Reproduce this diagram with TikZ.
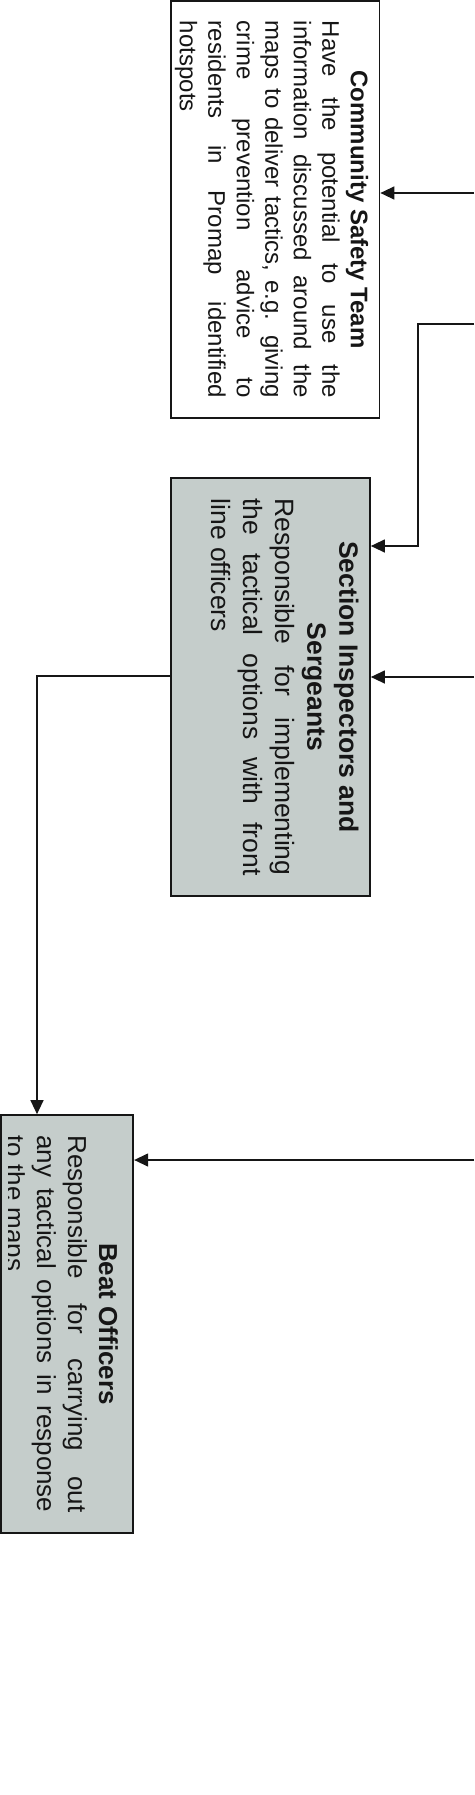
\documentclass[tikz,border=0pt]{standalone}
\usepackage{fontspec}
\setmainfont{Liberation Sans}
\usetikzlibrary{arrows.meta,calc}
\definecolor{boxgray}{RGB}{197,205,203}
\definecolor{ink}{RGB}{22,22,22}
\hyphenpenalty=10000
\exhyphenpenalty=10000
\begin{document}
\begin{tikzpicture}[x=1pt,y=-1pt,
  box/.style={draw=ink,line width=1.7pt,inner sep=0pt},
  txt/.style={rotate=-90,anchor=north,inner sep=0pt,text width=377pt,align=justify,text=ink},
  arr/.style={draw=ink,line width=1.3pt,-{Triangle[length=14pt,width=13pt]}}]
\useasboundingbox (0,0) rectangle (474,1795);
% boxes
\node[box,fill=white,minimum width=208.5pt,minimum height=417pt] (cst) at (275.25,209.5) {};
\node[txt,font=\fontsize{24}{28.5}\selectfont] (cstt) at ([xshift=-12pt]cst.east)
  {{\centering\bfseries Community Safety Team\par}\parindent=0pt Have the potential to use the\linebreak information discussed around the\linebreak maps to deliver tactics, e.g. giving\linebreak crime prevention advice to\linebreak residents in Promap identified\linebreak hotspots};
\node[box,fill=boxgray,minimum width=199pt,minimum height=418pt] (sis) at (270.5,687) {};
\node[txt,font=\fontsize{26.5}{32}\selectfont] (sist) at ([xshift=-12pt]sis.east)
  {{\centering\bfseries Section Inspectors and\\Sergeants\par}\parindent=0pt Responsible for implementing\linebreak the tactical options with front\linebreak line officers};
\node[box,fill=boxgray,minimum width=132pt,minimum height=418pt] (beat) at (67.3,1324) {};
\begin{scope}
\clip (8,1115) rectangle (133,1533);
\node[txt,font=\fontsize{26}{31}\selectfont] (beatt) at ([xshift=-16pt]beat.east)
  {{\centering\bfseries Beat Officers\par}\parindent=0pt Responsible for carrying out\linebreak any tactical options in response\linebreak to the maps};
\end{scope}
% connectors
\coordinate (in1) at (474,193);
\draw[arr] (in1) -- (in1 -| cst.east);
\coordinate (in2) at (474,324);
\coordinate (b2) at (418,546);
\draw[arr] (in2) -| (b2) -- (b2 -| sis.east);
\coordinate (in3) at (474,677);
\draw[arr] (in3) -- (in3 -| sis.east);
\coordinate (d4) at (37,676);
\draw[arr] (d4 -| sis.west) -| (d4 |- beat.north);
\coordinate (in5) at (474,1160);
\draw[arr] (in5) -- (in5 -| beat.east);
\end{tikzpicture}
\end{document}
